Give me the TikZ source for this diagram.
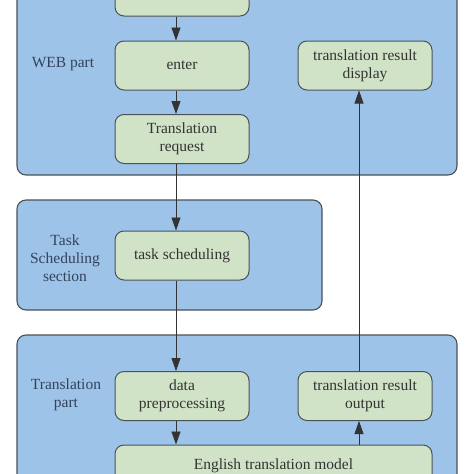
\documentclass[tikz,border=0pt]{standalone}
\usepackage{fontspec}
\setmainfont{Liberation Serif}
\usetikzlibrary{arrows.meta}
\definecolor{panelblue}{HTML}{9DC3E8}
\definecolor{boxgreen}{HTML}{D1E3C7}
\definecolor{edgegray}{HTML}{4A5258}
\definecolor{labelblue}{HTML}{34435C}
\definecolor{textgray}{HTML}{333333}
\tikzset{
  panel/.style={draw=edgegray, line width=1.1pt, fill=panelblue, rounded corners=9pt},
  stepbox/.style={draw=edgegray, line width=1pt, fill=boxgreen, rounded corners=9pt,
    minimum width=134pt, minimum height=49pt, align=center, text=textgray,
    font=\fontsize{15.5}{18}\selectfont, inner sep=2pt},
  partlabel/.style={align=center, text=labelblue, font=\fontsize{15.5}{18}\selectfont},
  flow/.style={draw=black!80, line width=0.8pt, -{Triangle[length=13pt,width=9pt]}},
}
\begin{document}
\begin{tikzpicture}[x=1pt,y=-1pt]
\useasboundingbox (0,0) rectangle (474,474);
% panels
\draw[panel] (17,-60) rectangle (457,175);
\draw[panel] (17,200) rectangle (322,310);
\draw[panel] (17,335) rectangle (457,540);
% labels
\node[partlabel] (lweb) at (63,64) {WEB part};
\node[partlabel] (ltask) at (65,258) {Task\\Scheduling\\section};
\node[partlabel] (ltrans) at (66,395) {Translation\\part};
% boxes
\node[stepbox] (top) at (182,-8.5) {};
\node[stepbox] (enter) at (182,65.5) {enter};
\node[stepbox] (req) at (182,139) {Translation\\request};
\node[stepbox] (disp) at (365,65.5) {translation result\\display};
\node[stepbox] (sched) at (182,255.5) {task scheduling};
\node[stepbox] (prep) at (182,396) {data\\preprocessing};
\node[stepbox] (outp) at (365,396) {translation result\\output};
\node[stepbox, minimum width=317pt] (model) at (273.5,469.5) {};
\node[text=textgray, font=\fontsize{15.5}{18}\selectfont] (modeltext) at (273.5,466) {English translation model};
% connectors
\draw[flow] (top.south -| 176,0) -- (enter.north -| 176,0);
\draw[flow] (enter.south -| 176,0) -- (req.north -| 176,0);
\draw[flow] (req.south -| 176,0) -- (sched.north -| 176,0);
\draw[flow] (sched.south -| 176,0) -- (prep.north -| 176,0);
\draw[flow] (prep.south -| 176,0) -- (model.north -| 176,0);
\draw[flow] (model.north -| 359,0) -- (outp.south -| 359,0);
\draw[flow] (outp.north -| 359,0) -- (disp.south -| 359,0);
\end{tikzpicture}
\end{document}
